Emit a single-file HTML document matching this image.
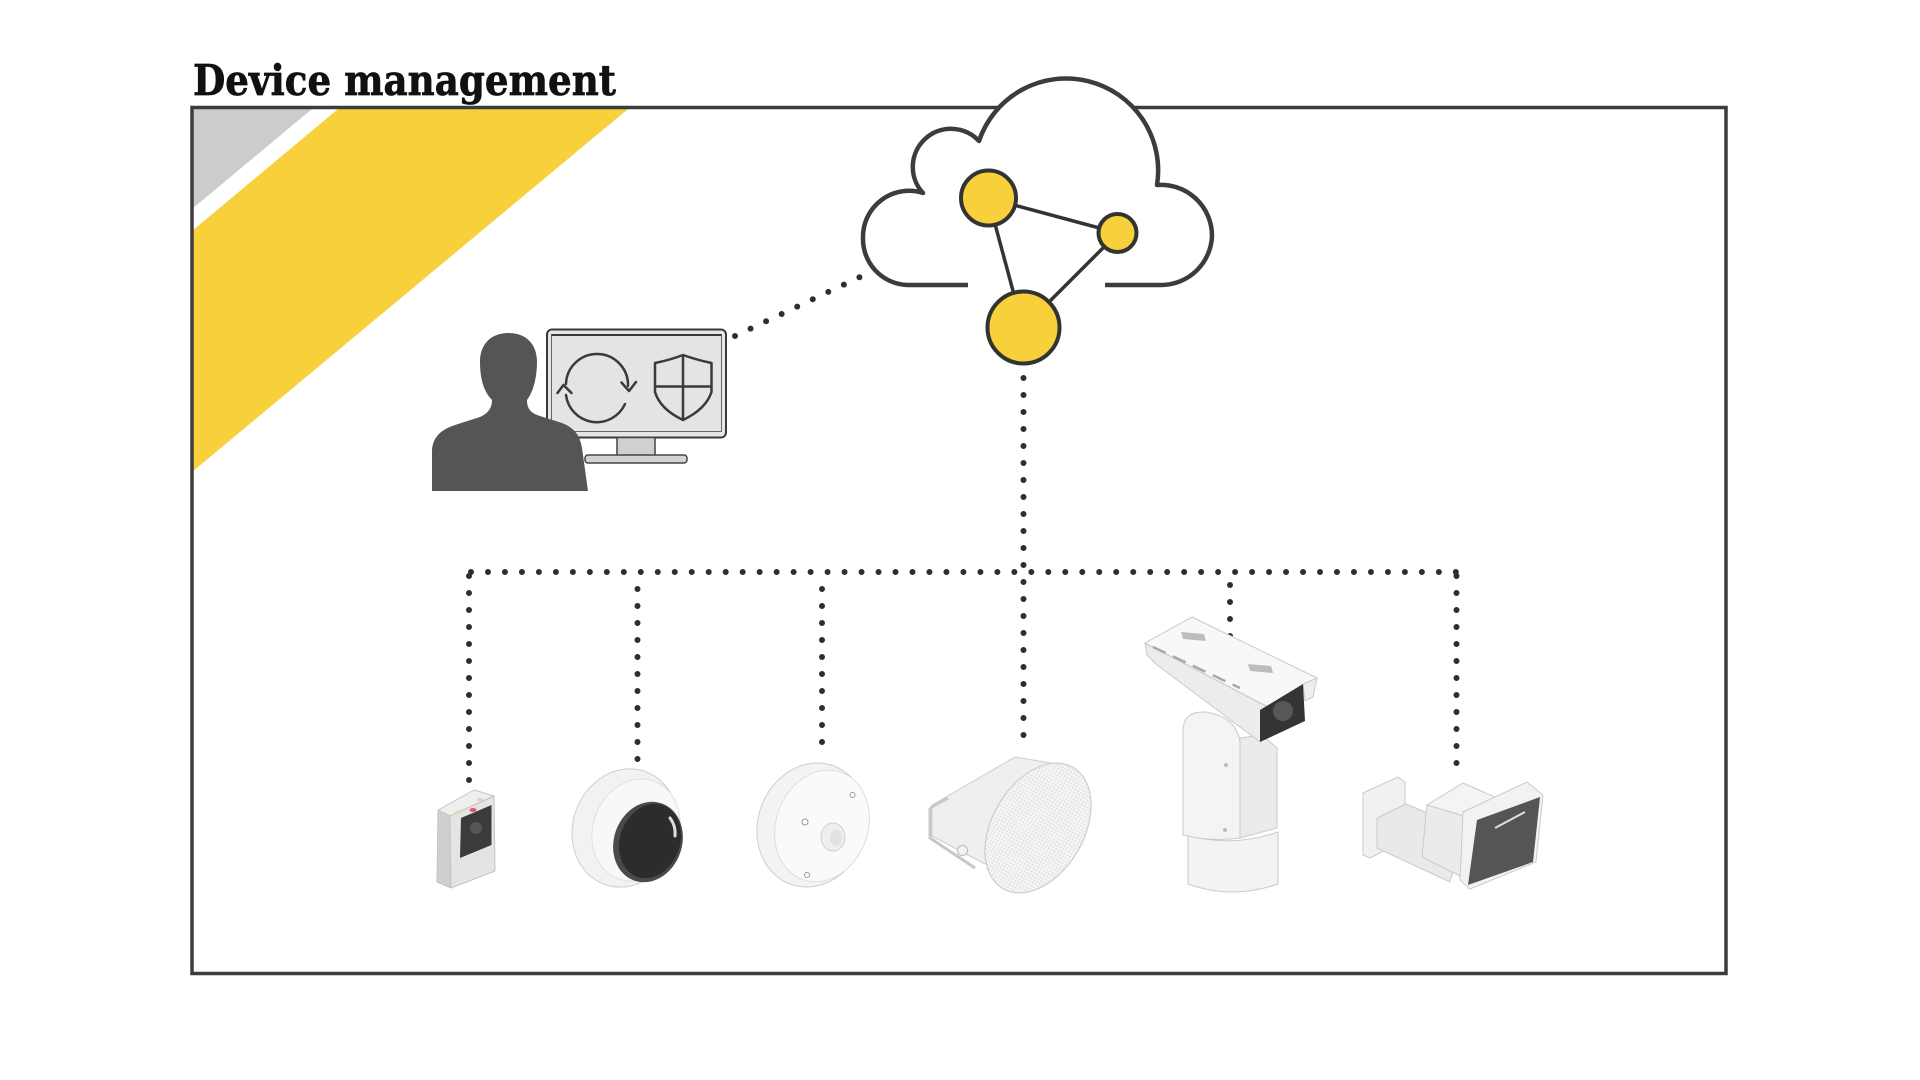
<!DOCTYPE html>
<html><head><meta charset="utf-8"><style>
html,body{margin:0;padding:0;background:#fff;width:1920px;height:1080px;overflow:hidden}
svg{display:block}
</style></head><body>
<svg width="1920" height="1080" viewBox="0 0 1920 1080" xmlns="http://www.w3.org/2000/svg">
<defs>
<pattern id="mesh" width="3.2" height="3.2" patternUnits="userSpaceOnUse">
<rect width="3.2" height="3.2" fill="#f5f5f5"/><circle cx="1.6" cy="1.6" r="0.75" fill="#d6d6d6"/>
</pattern>
</defs>
<rect width="1920" height="1080" fill="#fff"/>

<!-- title -->
<text x="193" y="95" font-family="'DejaVu Serif','Liberation Serif',serif" font-weight="bold" font-size="42" fill="#111" stroke="#111" stroke-width="0.7" textLength="423" lengthAdjust="spacingAndGlyphs">Device management</text>

<!-- stripes -->
<polygon points="192,109 312,109 192,209" fill="#cccccc"/>
<polygon points="338,109 628,109 192,472 192,231" fill="#f8d03b"/>

<!-- frame -->
<rect x="192" y="107.5" width="1534" height="866" fill="none" stroke="#3c3c3c" stroke-width="3.5"/>

<!-- cloud -->
<path d="M968,285 L907,285 A46,46 0 0 1 863,238 A46,46 0 0 1 923,193 A37,37 0 0 1 979,141 A92,92 0 0 1 1157,185 A51,51 0 0 1 1212,236 A51,51 0 0 1 1162,285 L1105,285" fill="#fff" stroke="#3c3c3c" stroke-width="4.5" stroke-linejoin="round"/>
<g stroke="#333" stroke-width="3.5">
<line x1="988" y1="198" x2="1118" y2="233"/>
<line x1="988" y1="198" x2="1023" y2="328"/>
<line x1="1118" y1="233" x2="1023" y2="328"/>
</g>
<g fill="#f8d03b" stroke="#333" stroke-width="4">
<circle cx="988.5" cy="198" r="27.5"/>
<circle cx="1117.5" cy="233" r="19"/>
<circle cx="1023.5" cy="327.5" r="36"/>
</g>

<!-- dotted connectors -->
<g stroke="#2e2e2e" stroke-width="6" stroke-linecap="round" stroke-dasharray="0 17" fill="none">
<line x1="735" y1="336" x2="862" y2="276" stroke-dasharray="0 17.2"/>
<line x1="1023.5" y1="378" x2="1023.5" y2="745"/>
<line x1="471" y1="572" x2="1456" y2="572" stroke-dasharray="0 16.98"/>
<line x1="469" y1="576" x2="469" y2="781"/>
<line x1="637.5" y1="589" x2="637.5" y2="763"/>
<line x1="822" y1="589" x2="822" y2="759"/>
<line x1="1230" y1="585" x2="1230" y2="637"/>
<line x1="1456.5" y1="576" x2="1456.5" y2="764"/>
</g>

<!-- monitor -->
<rect x="547" y="329.5" width="179" height="108" rx="5" fill="#e6e6e6" stroke="#3a3a3a" stroke-width="2"/>
<rect x="551.5" y="334.5" width="170" height="97" fill="#e4e4e4" stroke="#666" stroke-width="1"/>
<line x1="551.5" y1="335" x2="721.5" y2="335" stroke="#3a3a3a" stroke-width="2"/>
<rect x="617" y="437.5" width="38" height="18" fill="#d0d0d0" stroke="#444" stroke-width="1.5"/>
<rect x="585" y="455" width="102" height="8" rx="3" fill="#d4d4d4" stroke="#444" stroke-width="1.5"/>
<!-- refresh icon -->
<g fill="none" stroke="#3a3a3a" stroke-width="2.5" stroke-linecap="round" stroke-linejoin="round">
<path d="M566,384 A31,31 0 0 1 628,386"/>
<polyline points="621.5,382.5 629,391 636,382"/>
<path d="M625,404 A31,31 0 0 1 566,395"/>
<polyline points="557.5,393 563.5,385 571.5,393"/>
</g>
<!-- shield -->
<g fill="none" stroke="#3a3a3a" stroke-width="2.5" stroke-linejoin="round">
<path d="M655,363 Q670,360 683,355 Q697,360 711.5,363 L711.5,392 Q706,409 683,420 Q660,409 655,392 Z"/>
<line x1="683" y1="355" x2="683" y2="420"/>
<line x1="655" y1="386.5" x2="711.5" y2="386.5"/>
</g>

<!-- person -->
<path d="M432,491 L432,452 C432,438 440,430 455,425 L480,417 C489,413 492,407 492,400 C483,391 480,377 480,362 C480,343 492,333 508.5,333 C525,333 537,343 537,362 C537,378 533,392 527,400 C527,408 530,413 540,416 L562,423 C575,428 580,436 582,448 L588,491 Z" fill="#555555"/>

<!-- device 1: body cam -->
<g stroke="#c4c4c4" stroke-width="1" stroke-linejoin="round">
<polygon points="438,810 474,790 494,796 450,816" fill="#efefef"/>
<polygon points="438,810 450,816 451,888 437,882" fill="#cfcfcf"/>
<polygon points="450,816 494,796 495,871 451,888" fill="#e4e4e4"/>
</g>
<polygon points="461,818 491.5,805 491.5,845 460,858" fill="#3b3b3b"/>
<circle cx="476" cy="828" r="6" fill="#555"/>
<ellipse cx="473" cy="810" rx="3.5" ry="2" fill="#e05566"/>
<ellipse cx="458" cy="812" rx="3" ry="1.6" fill="#cfe0a8"/>
<ellipse cx="480" cy="799.5" rx="3" ry="1.6" fill="#cfe0a8"/>

<!-- device 2: dome -->
<ellipse cx="625" cy="828" rx="52" ry="60" transform="rotate(20 625 828)" fill="#f2f2f2" stroke="#cfcfcf" stroke-width="1"/>
<ellipse cx="636" cy="830" rx="43" ry="52" transform="rotate(20 636 830)" fill="#f8f8f8" stroke="#e0e0e0" stroke-width="1"/>
<ellipse cx="648" cy="842" rx="34" ry="41" transform="rotate(20 648 842)" fill="#4a4a4a"/>
<ellipse cx="650" cy="841" rx="30" ry="38" transform="rotate(20 650 841)" fill="#2c2c2c"/>
<path d="M670,818 Q676,826 675,836" stroke="#ddd" stroke-width="3" fill="none" stroke-linecap="round"/>

<!-- device 3: round -->
<ellipse cx="812" cy="825" rx="54" ry="63" transform="rotate(20 812 825)" fill="#f3f3f3" stroke="#cdcdcd" stroke-width="1"/>
<ellipse cx="822" cy="826" rx="46" ry="57" transform="rotate(20 822 826)" fill="#fafafa" stroke="#dedede" stroke-width="1"/>
<ellipse cx="833" cy="837" rx="12" ry="14" fill="#eeeeee" stroke="#cfcfcf" stroke-width="1"/>
<ellipse cx="836" cy="838" rx="6" ry="8" fill="#e2e2e2"/>
<g fill="#fff" stroke="#999" stroke-width="1">
<circle cx="805" cy="822" r="3"/><circle cx="852.5" cy="795" r="2.5"/><circle cx="807" cy="875" r="2.5"/>
</g>

<!-- device 4: speaker -->
<polygon points="932,805 1015,757 1062,765 985,864 932,836" fill="#efefef" stroke="#cdcdcd" stroke-width="1" stroke-linejoin="round"/>
<path d="M930,808 L930,838 L975,868 M930,808 L948,798" fill="none" stroke="#c8c8c8" stroke-width="3"/>
<circle cx="962.5" cy="850.5" r="5" fill="#f4f4f4" stroke="#bbb" stroke-width="1"/>
<ellipse cx="1038" cy="828" rx="46" ry="70" transform="rotate(30 1038 828)" fill="url(#mesh)" stroke="#cdcdcd" stroke-width="1.2"/>

<!-- device 5: PTZ -->
<g stroke="#cacaca" stroke-width="1" stroke-linejoin="round">
<path d="M1188,835 L1188,884 Q1232,900 1278,884 L1278,832 Q1232,848 1188,835 Z" fill="#f3f3f3"/>
<path d="M1183,728 Q1185,711 1205,712 Q1236,716 1240,742 L1240,838 Q1210,842 1183,835 Z" fill="#f4f4f4"/>
<polygon points="1240,738 1262,735 1277,748 1277,828 1240,838" fill="#ebebeb"/>
<polygon points="1147,655 1145,643 1268,707 1260,742 1157,665" fill="#ececec"/>
<polygon points="1145,643 1192,617 1317,678 1268,707" fill="#f8f8f8"/>
<polygon points="1303,684 1317,678 1313,697 1305,701" fill="#eeeeee"/>
</g>
<polygon points="1260,710 1303,684 1305,721 1260,742" fill="#343434"/>
<circle cx="1283" cy="711" r="10" fill="#575757"/>
<polygon points="1181,632 1204,634 1206,641 1183,639" fill="#bdbdbd"/>
<polygon points="1248,664 1271,666 1273,673 1250,671" fill="#bdbdbd"/>
<line x1="1153" y1="647" x2="1240" y2="688" stroke="#a8a8a8" stroke-width="2.5" stroke-dasharray="14 8"/>
<circle cx="1226" cy="765" r="2" fill="#bbb"/><circle cx="1225" cy="830" r="2" fill="#bbb"/>

<!-- device 6: box cam -->
<g stroke="#cacaca" stroke-width="1" stroke-linejoin="round">
<polygon points="1363,793 1398,777 1405,782 1405,840 1370,858 1363,855" fill="#f1f1f1"/>
<polygon points="1377,818 1406,804 1425,812 1455,865 1450,882 1377,848" fill="#e9e9e9"/>
<polygon points="1427,805 1463,783 1497,798 1467,817" fill="#f4f4f4"/>
<polygon points="1427,805 1467,817 1468,880 1422,857" fill="#ebebeb"/>
<polygon points="1463,812 1527,782 1543,795 1536,862 1470,889 1460,880" fill="#f2f2f2"/>
</g>
<polygon points="1477,820 1540,797 1533,862 1468,885" fill="#555555"/>
<line x1="1495" y1="828" x2="1525" y2="812" stroke="#e0e0e0" stroke-width="2"/>
</svg>
</body></html>
